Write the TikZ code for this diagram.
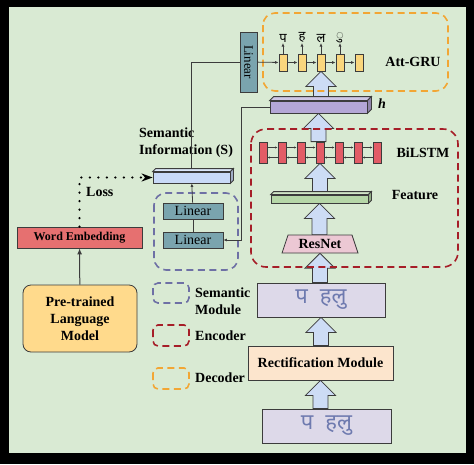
\documentclass[tikz,border=0pt]{standalone}
\usepackage{fontspec}
\setmainfont{Liberation Serif}
\newfontfamily\deva[Script=Devanagari]{Noto Sans}
\usetikzlibrary{calc,arrows.meta}
\pgfdeclarelayer{back}
\pgfdeclarelayer{bg}
\pgfsetlayers{back,bg,main}
\definecolor{bggreen}{RGB}{217,234,211}
\definecolor{edge}{RGB}{60,60,60}
\definecolor{decorange}{RGB}{242,166,52}
\definecolor{encred}{RGB}{166,30,40}
\definecolor{semblue}{RGB}{110,112,165}
\definecolor{grucell}{RGB}{250,214,125}
\definecolor{lstmred}{RGB}{226,92,102}
\definecolor{lineart}{RGB}{122,164,174}
\definecolor{hpurple}{RGB}{180,167,214}
\definecolor{featgreen}{RGB}{182,215,168}
\definecolor{resnetpink}{RGB}{236,200,212}
\definecolor{wordimg}{RGB}{221,217,233}
\definecolor{rectpeach}{RGB}{252,229,205}
\definecolor{semfill}{RGB}{201,218,248}
\definecolor{arrowblue}{RGB}{205,220,245}
\definecolor{wefill}{RGB}{230,112,112}
\definecolor{plmfill}{RGB}{255,218,140}
\definecolor{inkblue}{RGB}{110,122,175}
\tikzset{
  box/.style={draw=edge, line width=0.8pt, inner sep=0pt},
  lbl/.style={font=\fontsize{14}{17}\selectfont\bfseries, inner sep=0pt},
  dashbox/.style={dash pattern=on 7pt off 4.5pt, line width=1.6pt},
  blockarr/.style={fill=arrowblue, draw=edge, line width=0.8pt, line join=miter},
  thin arrow/.style={draw=edge, line width=0.8pt, -{Latex[length=3.5pt,width=3pt]}},
  conn/.style={draw=edge, line width=0.8pt},
  handword/.style={box, fill=wordimg, minimum height=34, text=inkblue,
    font=\deva\fontsize{22}{24}\selectfont},
}
\newcommand\blockarrow[2]{%
  \begin{pgfonlayer}{bg}
  \draw[blockarr] let \p1=(#1.north), \p2=(#2.south) in
    (\x2-7.5pt,\y1) -- (\x2-7.5pt,\y2-15pt) -- (\x2-15pt,\y2-15pt) -- (\x2,\y2)
    -- (\x2+15pt,\y2-15pt) -- (\x2+7.5pt,\y2-15pt) -- (\x2+7.5pt,\y1) -- cycle;
  \end{pgfonlayer}}
\newcommand\prismbar[7]{%
  \node[box, fill=#2, minimum width=#5, minimum height=#6] (#1) at (#3,#4) {};
  \draw[draw=edge, line width=0.8pt, fill=#2!65!white] (#1.north west) -- ++(#7,-#7)
    -- ([shift={(#7,-#7)}]#1.north east) -- (#1.north east) -- cycle;
  \draw[draw=edge, line width=0.8pt, fill=#2!80!black] (#1.north east) -- ++(#7,-#7)
    -- ([shift={(#7,-#7)}]#1.south east) -- (#1.south east) -- cycle;}
\begin{document}
\begin{tikzpicture}[x=1pt,y=-1pt]
\useasboundingbox (0,0) rectangle (474,464);
\begin{pgfonlayer}{back}
\fill[black] (0,0) rectangle (474,464);
\fill[bggreen] (9,7) rectangle (466,453);
\end{pgfonlayer}

% ---------- dashed group boxes ----------
\draw[dashbox, draw=decorange, rounded corners=12pt] (263,13) rectangle (448,91);
\draw[dashbox, draw=encred, rounded corners=15pt] (251,129) rectangle (458,267);
\draw[dashbox, draw=semblue, rounded corners=12pt] (154,193) rectangle (238,270);

% ---------- decoder ----------
\node[box, fill=lineart, minimum width=60, minimum height=17, rotate=-90,
      font=\fontsize{13}{15}\selectfont] (linv) at (248.5,62) {Linear};
\foreach \i/\x in {1/283,2/302,3/321,4/340,5/359}
  \node[box, fill=grucell, minimum width=8, minimum height=17] (g\i) at (\x,62.5) {};
\foreach \i/\j in {1/2,2/3,3/4,4/5}
  \draw[thin arrow] (g\i) -- (g\j);
\draw[thin arrow] (linv) -- (g1);
\foreach \i/\x/\c in {1/283/प,2/302/ह,3/321/ल,4/340/ु}
  \node[anchor=south, inner sep=0pt, font=\deva\fontsize{13}{15}\selectfont] (c\i) at (\x,43) {\c};
\foreach \i in {1,2,3,4}
  \draw[thin arrow] (g\i.north) -- (c\i.south);
\node[lbl] (attgru) at (413,62) {Att-GRU};

% ---------- h ----------
\prismbar{h}{hpurple}{318.5}{107}{97}{12}{4}
\node[lbl, font=\fontsize{14}{17}\selectfont\bfseries\itshape] (hlab) at (382,104) {h};

% ---------- encoder ----------
\foreach \i in {1,...,7}
  \node[box, fill=lstmred, minimum width=8, minimum height=21] (l\i) at ({263+19*(\i-1)},152.5) {};
\foreach \i/\j in {1/2,2/3,3/4,4/5,5/6,6/7} {
  \draw[draw=edge, line width=0.6pt, -{Latex[length=2.5pt,width=2.2pt]}] ([yshift=5pt]l\i.east) -- ([yshift=5pt]l\j.west);
  \draw[draw=edge, line width=0.6pt, -{Latex[length=2.5pt,width=2.2pt]}] ([yshift=-5pt]l\j.west) -- ([yshift=-5pt]l\i.east);
}
\node[lbl] (bilstm) at (423,153) {BiLSTM};
\prismbar{feat}{featgreen}{319.5}{199}{97}{8}{3}
\node[lbl] (featlab) at (415,195) {Feature};
\fill[resnetpink, draw=edge, line width=0.8pt] (288,235) -- (352,235) -- (358,253) -- (282,253) -- cycle;
\node[lbl, minimum width=64, minimum height=18] (resnet) at (320,244) {ResNet};

% ---------- input side ----------
\node[handword, minimum width=128] (word1) at (321,300) {प\hspace{12pt}हलु};
\node[box, fill=rectpeach, minimum width=145, minimum height=34, font=\fontsize{14}{17}\selectfont\bfseries]
      (rect) at (320.5,363) {Rectification Module};
\node[handword, minimum width=129] (word2) at (326.5,426) {प\hspace{12pt}हलु};

\blockarrow{word2}{rect}
\blockarrow{rect}{word1}
\blockarrow{word1}{resnet}
\blockarrow{resnet}{feat}
\blockarrow{feat}{l4}
\blockarrow{l4}{h}
\blockarrow{h}{g3}

% ---------- semantic module ----------
\node[box, fill=lineart, minimum width=60, minimum height=16, font=\fontsize{14}{16}\selectfont] (lin1) at (193,211) {Linear};
\node[box, fill=lineart, minimum width=60, minimum height=16, font=\fontsize{14}{16}\selectfont] (lin2) at (193,240) {Linear};
\prismbar{sem}{semfill}{191.5}{177.5}{77}{11}{3}
\node[lbl, anchor=west, align=left] (semlab) at (139,143) {Semantic\\Information (S)};
\coordinate (semtop) at ([yshift=3pt]sem.north);
\draw[conn] (semtop) |- (linv);
\draw[conn] (lin2) -- (lin1);
\draw[thin arrow] (lin1) -- (sem);
\coordinate (hleft) at ([xshift=-28pt]h.west);
\draw[conn] (h.west) -- (hleft);
\draw[thin arrow] (hleft) |- (lin2);

% ---------- language model ----------
\node[box, fill=wefill, minimum width=125, minimum height=21, font=\fontsize{12}{14}\selectfont\bfseries]
      (we) at (79.5,237.5) {Word Embedding};
\node[box, fill=plmfill, rounded corners=8pt, minimum width=114, minimum height=67, align=center,
      font=\fontsize{14}{17}\selectfont\bfseries] (plm) at (80,318.5) {Pre-trained\\Language\\Model};
\draw[draw=edge, line width=1pt, -{Latex[length=6pt,width=5pt]}] (plm) -- (we);
\draw[line width=2.4pt, line cap=round, dash pattern=on 0pt off 8.5pt,
      -{Stealth[length=11pt,width=8pt]}] (we.north) |- (sem.west);
\node[lbl, anchor=west] (loss) at (86,192) {Loss};

% ---------- legend ----------
\draw[dashbox, draw=semblue, rounded corners=5pt] (153,283) rectangle (189,303);
\draw[dashbox, draw=encred, rounded corners=5pt] (153,325) rectangle (189,346);
\draw[dashbox, draw=decorange, rounded corners=5pt] (153,368) rectangle (189,389);
\node[lbl, anchor=west, align=left] (legsem) at (195,301.5) {Semantic\\Module};
\node[lbl, anchor=west] (legenc) at (195,336) {Encoder};
\node[lbl, anchor=west] (legdec) at (195,378) {Decoder};
\end{tikzpicture}
\end{document}
